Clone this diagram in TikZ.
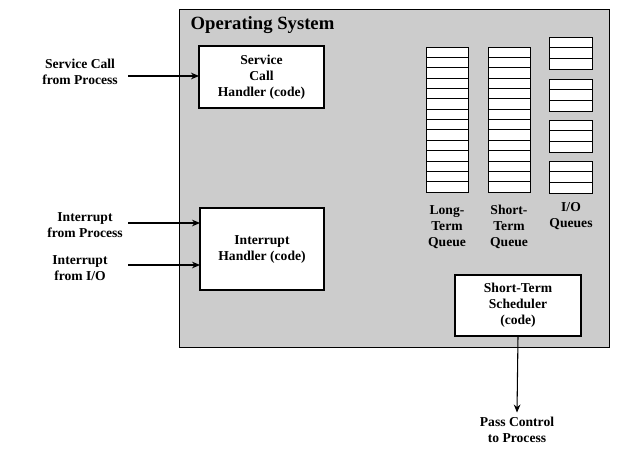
\documentclass[tikz,border=0pt]{standalone}
\usepackage{fontspec}
\setmainfont{Liberation Serif}
\usetikzlibrary{arrows.meta}
\begin{document}
\begin{tikzpicture}[x=0.75pt,y=-0.75pt,
  lbl/.style={font=\bfseries\fontsize{10.2}{12}\selectfont,align=center},
  box/.style={draw,thick,fill=white,inner sep=0},
  cell/.style={draw,fill=white,line width=0.6pt},
  arr/.style={-{Stealth[length=6pt,width=5pt]},thick}]
\useasboundingbox (0,0) rectangle (632,454);
\node[draw,thick,fill=black!20,minimum width=430*0.75pt,minimum height=338*0.75pt,anchor=north west,inner sep=0] (os) at (179,9) {};
\node[anchor=west,font=\bfseries\fontsize{14}{16}\selectfont] (title) at (186,25) {Operating System};
\node[box,lbl,minimum width=125*0.75pt,minimum height=62*0.75pt] (sch) at (261.5,77) {Service\\Call\\Handler (code)};
\node[box,lbl,minimum width=124*0.75pt,minimum height=82*0.75pt] (ih) at (262,249) {Interrupt\\Handler (code)};
\node[box,lbl,minimum width=126*0.75pt,minimum height=61*0.75pt] (sts) at (518,305.5) {Short-Term\\Scheduler\\(code)};
\foreach \i in {0,...,13}{
  \draw[cell] (426,{47+\i*10.36}) rectangle (468,{47+(\i+1)*10.36});
  \draw[cell] (488,{47+\i*10.36}) rectangle (530,{47+(\i+1)*10.36});}
\foreach \g/\y in {0/37,1/79,2/120,3/161}{
  \foreach \j in {0,1,2}{\draw[cell] (549,{\y+\j*10.7}) rectangle (592,{\y+(\j+1)*10.7});}}
\node[lbl] (lq) at (447,227) {Long-\\Term\\Queue};
\node[lbl] (sq) at (509,227) {Short-\\Term\\Queue};
\node[lbl] (ioq) at (571,216) {I/O\\Queues};
\node[lbl] (sc) at (80,72) {Service Call\\from Process};
\node[lbl] (ip) at (85,225) {Interrupt\\from Process};
\node[lbl] (iio) at (80,268) {Interrupt\\from I/O};
\node[lbl] (pc) at (517,430) {Pass Control\\to Process};
\coordinate (a1) at (128,76); \coordinate (a1e) at (199,76);
\coordinate (a2) at (128,223); \coordinate (a2e) at (200,223);
\coordinate (a3) at (128,265); \coordinate (a3e) at (200,265);
\draw[arr] (a1) -- (a1e);
\draw[arr] (a2) -- (a2e);
\draw[arr] (a3) -- (a3e);
\draw[arr] (sts.south) -- (pc.north);
\end{tikzpicture}
\end{document}
